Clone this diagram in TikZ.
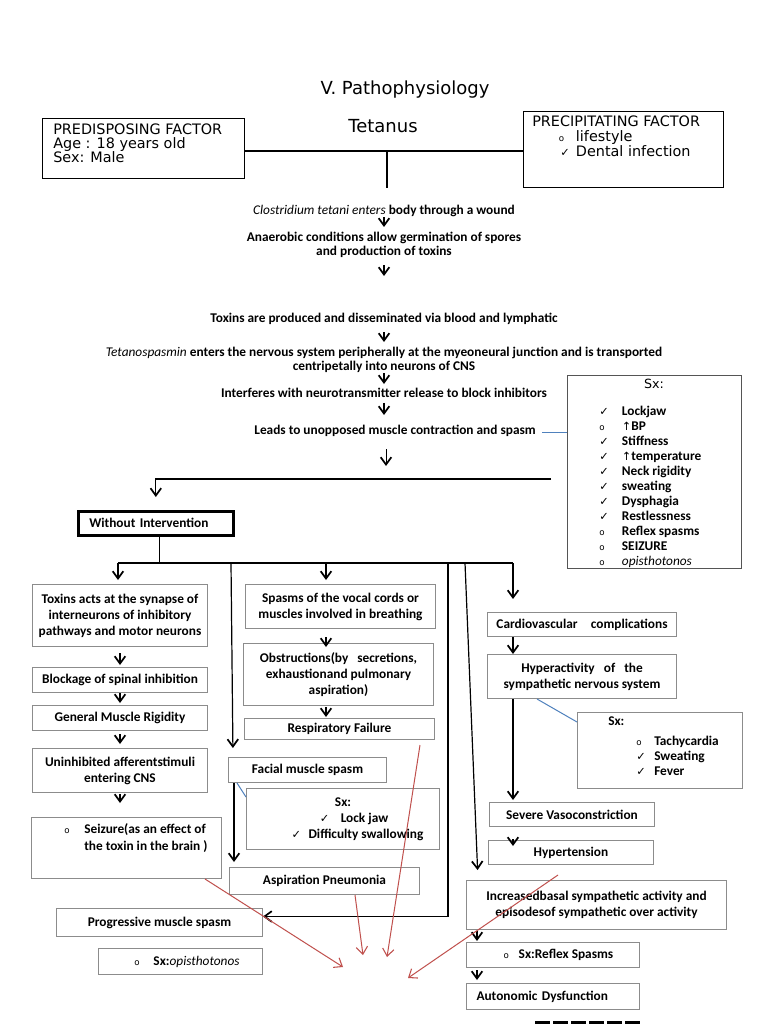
\documentclass[tikz,border=0pt]{standalone}
\usepackage{fontspec}
\setmainfont{Carlito}
\newfontfamily\vf{DejaVu Sans}
\usetikzlibrary{arrows.meta,calc}
\definecolor{boxgray}{HTML}{8C8C8C}
\definecolor{sxgray}{HTML}{555555}
\definecolor{myblue}{HTML}{4F81BD}
\definecolor{myred}{HTML}{C0504D}
\newcommand\ck{{\vf\fontsize{8.5}{9}\selectfont\mdseries ✓}}
\newcommand\bu{{\vf\fontsize{6.5}{8}\selectfont\mdseries o}}
\newcommand\upa{{\vf\fontsize{8.5}{10}\selectfont\mdseries ↑}}
\def\px{*0.75pt}
\tikzset{
  bsz/.style 2 args={minimum width=#1*0.75pt, minimum height=#2*0.75pt},
  box/.style={draw=boxgray, line width=0.75pt, inner sep=1pt, align=center, anchor=north west, font=\fontsize{10}{12}\selectfont\bfseries},
  flow/.style={inner sep=0, align=center, font=\fontsize{10}{10.5}\selectfont\bfseries},
  lst/.style={inner sep=0, align=left, font=\fontsize{10}{11.25}\selectfont\bfseries},
  hdr/.style={inner sep=0, align=left, anchor=north west},
  conn/.style={line width=0.9pt},
  arr/.style={line width=0.9pt, -{Straight Barb[length=5.5pt,width=8pt,line width=1.3pt]}},
  redarr/.style={draw=myred, line width=0.75pt, -{Straight Barb[length=5.5pt,width=8.5pt,line width=0.8pt]}},
  blu/.style={draw=myblue, line width=0.75pt},
  wbox/.style={draw=black, line width=2pt, anchor=north west, inner xsep=8.25pt, text width=99.75pt, align=left, minimum height=18pt, font=\fontsize{10}{12}\selectfont\bfseries}
}
\begin{document}
\begin{tikzpicture}[x=0.75pt,y=-0.75pt]
\useasboundingbox (0,0) rectangle (768,1024);
\fill[white] (0,0) rectangle (768,1024);

% ---------- header ----------
\node[font=\vf\fontsize{13.5}{16}\selectfont] (title) at (405,90) {V. Pathophysiology};
\node[font=\vf\fontsize{13.5}{16}\selectfont] (tet) at (383,126) {Tetanus};
\node[draw=black, line width=0.75pt, anchor=north west, bsz={202}{60}, inner sep=0] (pre) at (42,118) {};
\node[hdr, font=\vf\fontsize{10.8}{10.5}\selectfont] (pret) at (53,124) {PREDISPOSING FACTOR\\Age : 18 years old\\Sex: Male};
\node[draw=black, line width=0.75pt, anchor=north west, bsz={200}{76}, inner sep=0] (prec) at (523,111) {};
\node[hdr, font=\vf\fontsize{10.8}{11.25}\selectfont] (prect) at (532,116) {PRECIPITATING FACTOR\\\hspace*{20pt}\makebox[12.75pt][l]{\bu}lifestyle\\\hspace*{21pt}\makebox[11.75pt][l]{\ck}Dental infection};
\coordinate (tj) at (387,151);
\coordinate (tje) at (387,188);
\draw[conn] (pre.east |- tj) -- (prec.west |- tj);
\draw[conn] (tj) -- (tje);

% ---------- main flow ----------
\node[flow] (f1) at (384,211) {{\mdseries\itshape Clostridium tetani enters} body through a wound};
\node[flow] (f2) at (384,245) {Anaerobic conditions allow germination of spores\\and production of toxins};
\node[flow] (f3) at (384,319) {Toxins are produced and disseminated via blood and lymphatic};
\node[flow] (f4) at (384,360) {{\mdseries\itshape Tetanospasmin} enters the nervous system peripherally at the myeoneural junction and is transported\\centripetally into neurons of CNS};
\node[flow] (f5) at (384,393) {Interferes with neurotransmitter release to block inhibitors};
\node[flow, anchor=east] (f6) at (536,431) {Leads to unopposed muscle contraction and spasm};

\draw[arr, shorten <=0\px, shorten >=5\px] (f1) -- (f2);
\draw[arr, shorten <=7\px, shorten >=37\px] (f2) -- (f3);
\draw[arr, shorten <=7\px, shorten >=5\px] (f3) -- (f4);
\draw[arr, shorten <=0\px, shorten >=4\px] (f4) -- (f5);
\draw[arr, shorten <=5\px, shorten >=10\px] (f5) -- (f6.north -| f5);
\coordinate (j1) at (386,466);
\draw[arr, line width=0.75pt, shorten <=12\px] (f6.south -| j1) -- (j1);

% ---------- Sx box (top right) ----------
\node[draw=sxgray, line width=0.75pt, anchor=north west, bsz={174}{193}, inner sep=0] (sxt) at (567,375) {};
\node[font=\vf\fontsize{9.5}{11}\selectfont] (sxth) at (654,384) {Sx:};
\node[lst, anchor=north west] (sxtl) at (599,406) {\makebox[17pt][l]{\ck}Lockjaw\\
\makebox[17pt][l]{\bu}\upa BP\\
\makebox[17pt][l]{\ck}Stiffness\\
\makebox[17pt][l]{\ck}\upa temperature\\
\makebox[17pt][l]{\ck}Neck rigidity\\
\makebox[17pt][l]{\ck}sweating\\
\makebox[17pt][l]{\ck}Dysphagia\\
\makebox[17pt][l]{\ck}Restlessness\\
\makebox[17pt][l]{\bu}Reflex spasms\\
\makebox[17pt][l]{\bu}SEIZURE\\
\makebox[17pt][l]{\bu}{\mdseries\itshape opisthotonos}};
\coordinate (f6e) at ($(f6.east)+(6,1)$);
\draw[blu] (f6e) -- (f6e -| sxt.west);

% ---------- branching ----------
\node[wbox] (wi) at (77,510) {Without Intervention};
\coordinate (hr) at (551,479);
\draw[arr, shorten >=13\px] (hr) -| (wi.north);
\coordinate (bl) at (118,563);
\coordinate (br) at (513,563);
\coordinate (b2) at (231,563);
\coordinate (b3) at (326,563);
\coordinate (b4) at (448,563);
\coordinate (b5) at (465,563);
\coordinate (wis) at ($(wi.south)+(4,0)$);
\draw[conn] (bl) -- (br);
\draw[conn] (wis) -- (wis |- bl);

% ---------- left column ----------
\node[box, bsz={175}{62}] (t1) at (32,584) {Toxins acts at the synapse of\\interneurons of inhibitory\\pathways and motor neurons};
\node[box, bsz={175}{25}] (bs) at (32,667) {Blockage of spinal inhibition};
\node[box, bsz={175}{25}] (gm) at (32,705) {General Muscle Rigidity};
\node[box, bsz={175}{44}] (ua) at (32,748) {Uninhibited afferentstimuli\\entering CNS};
\node[box, bsz={190}{61}] (sz) at (31,817) {};
\node[lst, anchor=north west, font=\fontsize{10}{12.75}\selectfont\bfseries] (szt) at (64,823) {\makebox[15pt][l]{\bu}Seizure(as an effect of\\\hspace*{15pt}the toxin in the brain )};

\draw[arr, shorten >=4\px] (bl) -- (bl |- t1.north);
\draw[arr, shorten <=6\px, shorten >=2\px] (t1) -- (bs);
\draw[arr, shorten <=0\px, shorten >=2\px] (bs) -- (gm);
\draw[arr, shorten <=3\px, shorten >=4\px] (gm) -- (ua);
\draw[arr, shorten <=1\px, shorten >=14\px] (ua.south) -- (ua.south |- sz.north);

% ---------- middle column ----------
\node[box, bsz={190}{44}] (sv) at (245,584) {Spasms of the vocal cords or\\muscles involved in breathing};
\node[box, bsz={190}{62}] (ob) at (243,643) {Obstructions(by\ \ \ secretions,\\exhaustionand pulmonary\\aspiration)};
\node[box, bsz={190}{21}] (rf) at (244,718) {Respiratory Failure};
\node[box, bsz={158}{25}] (fm) at (228,757) {Facial muscle spasm};
\node[box, bsz={193}{61}] (sxm) at (246,788) {Sx:\\\hspace*{16.5pt}\makebox[15.75pt][l]{\ck}Lock jaw\\\hspace*{21.75pt}\makebox[12.75pt][l]{\ck}Difficulty swallowing};
\node[box, bsz={190}{27}] (ap) at (229,867) {Aspiration Pneumonia};
\node[box, bsz={206}{28}] (pm) at (56,908) {Progressive muscle spasm};
\node[box, bsz={164}{26}] (sxo) at (98,948) {\hspace*{9.75pt}\makebox[14.25pt][l]{\bu}Sx:{\mdseries\itshape opisthotonos}};

\draw[arr, shorten >=4\px] (b3) -- (b3 |- sv.north);
\draw[arr, shorten <=8\px, shorten >=-4\px] (sv.south -| b3) -- (ob.north -| b3);
\draw[arr, shorten <=1\px, shorten >=1\px] (ob.south -| b3) -- (rf.north -| b3);
\draw[arr, shorten >=9\px] (b2) -- ($(fm.north west)+(5,0)$);
\draw[arr, shorten >=5\px] ($(fm.south west)+(6,0)$) -- ($(ap.north west)+(5,0)$);
\draw[blu] ($(fm.south west)+(9,0)$) -- ($(sxm.north west)+(0,9)$);
\draw[arr] (b4) |- ($(pm.east)+(0,-6)$);

% ---------- right column ----------
\node[box, bsz={189}{24}] (cv) at (487,612) {Cardiovascular\quad complications};
\node[box, bsz={189}{44}] (hy) at (487,654) {Hyperactivity\ \ \ of\ \ \ the\\sympathetic nervous system};
\node[box, bsz={165}{76}] (sxr) at (577,712) {};
\node[lst, anchor=north west] (sxrt) at (608,716) {Sx:\\[3.75pt]
\hspace*{21pt}\makebox[13.5pt][l]{\bu}Tachycardia\\
\hspace*{21pt}\makebox[13.5pt][l]{\ck}Sweating\\
\hspace*{21pt}\makebox[13.5pt][l]{\ck}Fever};
\node[box, bsz={165}{24}] (svc) at (489,802) {Severe Vasoconstriction};
\node[box, bsz={165}{24}] (ht) at (488,840) {Hypertension};
\node[box, bsz={260}{49}] (ib) at (466,880) {Increasedbasal sympathetic activity and\\episodesof sympathetic over activity};
\node[box, bsz={173}{25}] (rs) at (466,942) {\hspace*{8.25pt}\makebox[11.25pt][l]{\bu}Sx:Reflex Spasms};
\node[box, bsz={173}{26}, align=left, inner xsep=7.5pt, text width=114.75pt] (ad) at (466,983) {Autonomic Dysfunction};

\draw[arr, shorten >=13\px] (br) -- (br |- cv.north);
\draw[arr] (cv.south -| br) -- (hy.north -| br);
\draw[arr, shorten >=2\px] (hy.south -| br) -- (svc.north -| br);
\draw[blu] ($(hy.south west)+(50,0)$) -- ($(sxr.north west)+(0,10)$);
\draw[arr, shorten <=12\px, shorten >=-6\px] (svc.south -| br) -- (ht.north -| br);
\draw[arr, shorten >=10\px] (b5) -- ($(ib.north west)+(12,0)$);
\draw[arr, shorten <=1\px, shorten >=1\px] ($(ib.south west)+(11,0)$) -- ($(rs.north west)+(11,0)$);
\draw[arr, shorten <=2\px, shorten >=3\px] ($(rs.south west)+(11,0)$) -- ($(ad.north west)+(11,0)$);

% ---------- red arrows ----------
\coordinate (r1) at (343,967);
\coordinate (r2) at (363,955);
\coordinate (r3) at (387,957);
\coordinate (r4) at (408,978);
\draw[redarr] ($(sz.south east)+(-17,0)$) -- (r1);
\draw[redarr] ($(ap.south west)+(126,0)$) -- (r2);
\draw[redarr] ($(rf.south east)+(-15,5)$) -- (r3);
\draw[redarr] ($(ib.north west)+(92,-5)$) -- (r4);

% ---------- cut-off rule at the bottom ----------
\draw[line width=3pt, dash pattern=on 11.25pt off 2.25pt] (535,1022.5) -- (641,1022.5);
\end{tikzpicture}
\end{document}
